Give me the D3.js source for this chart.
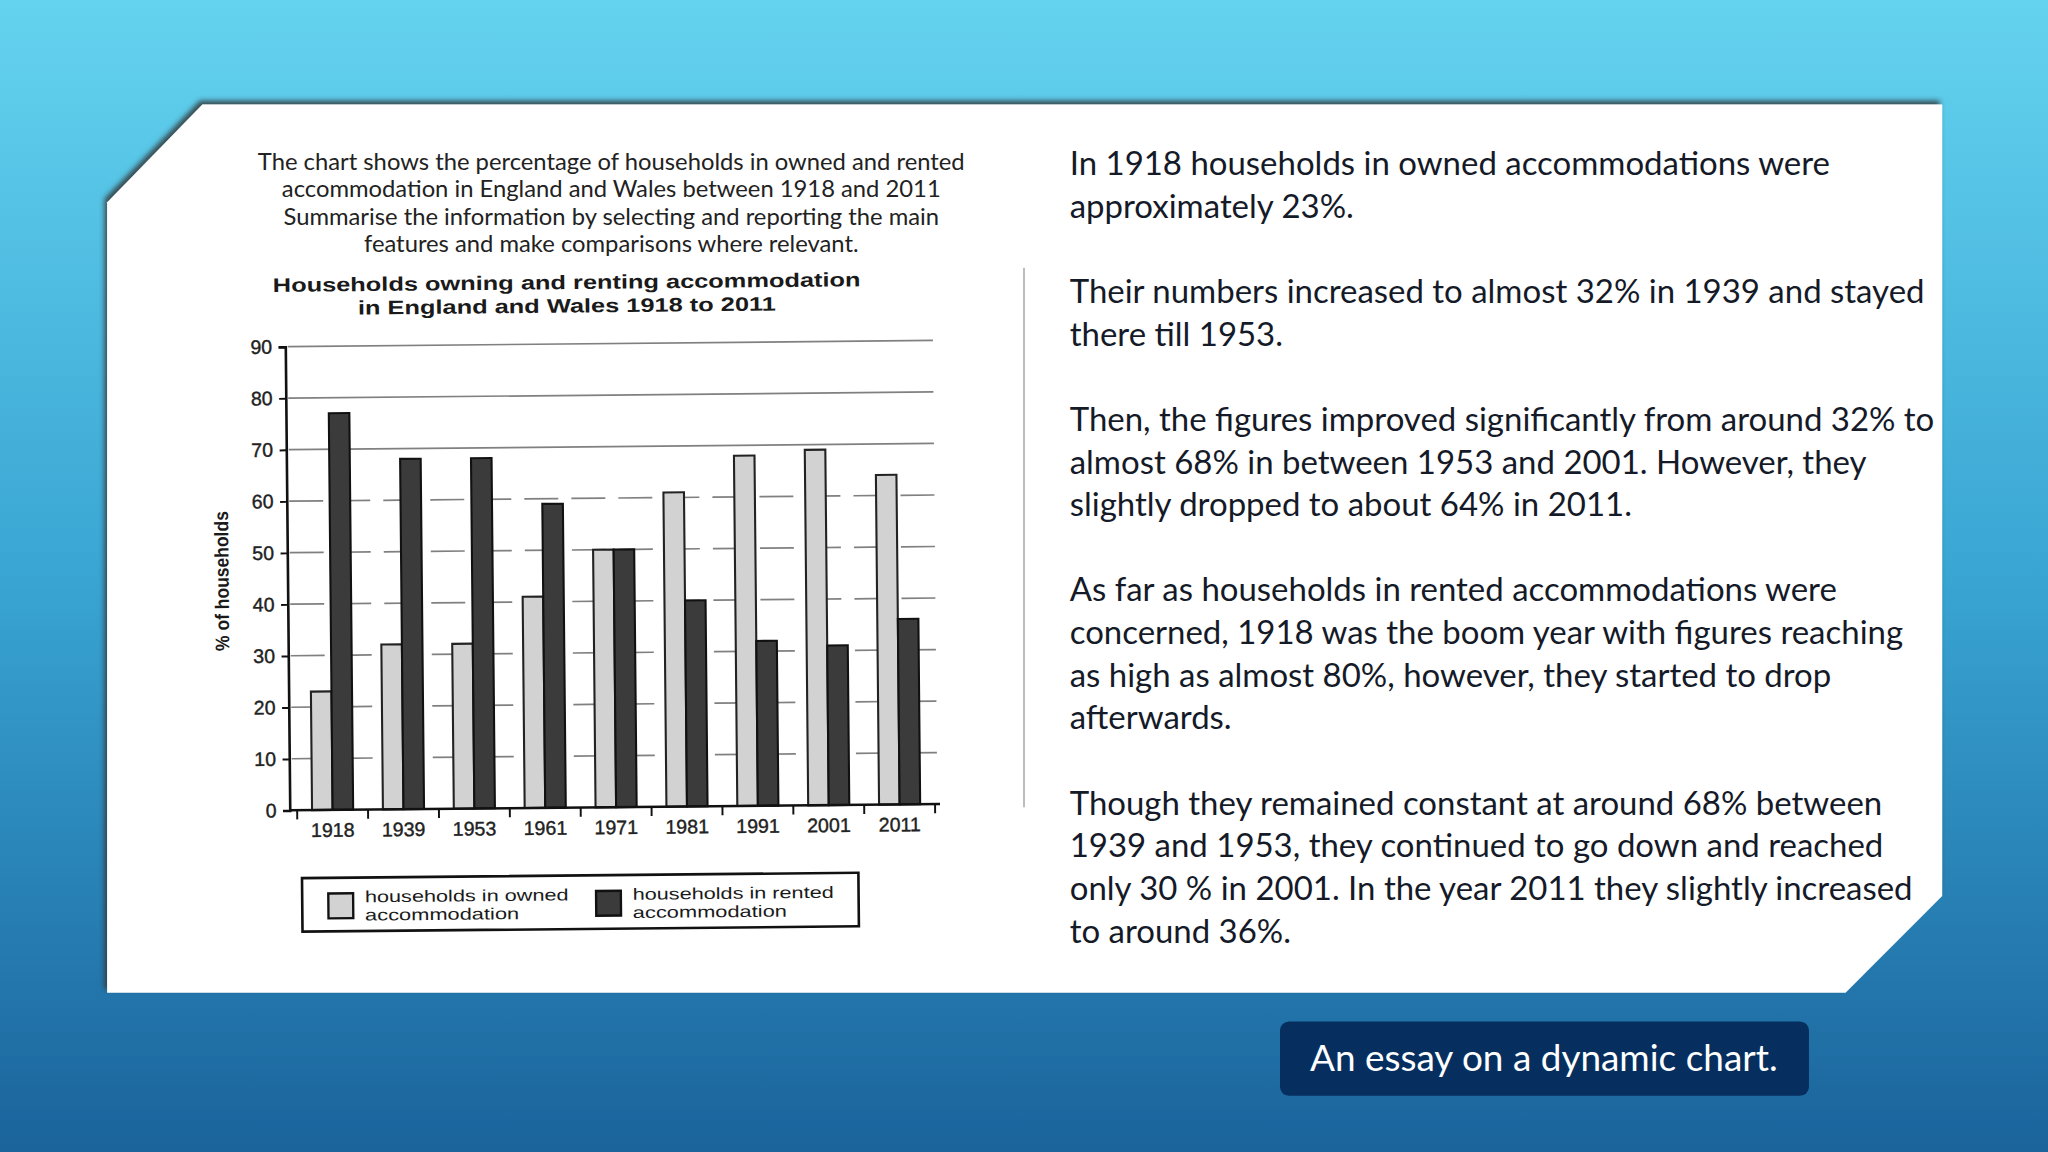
<!DOCTYPE html>
<html>
<head>
<meta charset="utf-8">
<script src="https://cdn.jsdelivr.net/npm/d3@7"></script>
<style>
  body { margin: 0; background: #1a669e; overflow: hidden; }
  svg { display: block; }
</style>
</head>
<body>
<div id="slide"></div>
<script>
"use strict";

// chart data
var years = ["1918", "1939", "1953", "1961", "1971", "1981", "1991", "2001", "2011"];
var owned = [23, 32, 32, 41, 50, 61, 68, 69, 64];
var rented = [77, 68, 68, 59, 50, 40, 32, 31, 36];
var yTicks = [0, 10, 20, 30, 40, 50, 60, 70, 80, 90];
var seriesNames = [["households in owned", "accommodation"], ["households in rented", "accommodation"]];

var chartTitle = ["Households owning and renting accommodation", "in England and Wales 1918 to 2011"];
var introLines = [
  "The chart shows the percentage of households in owned and rented",
  "accommodation in England and Wales between 1918 and 2011",
  "Summarise the information by selecting and reporting the main",
  "features and make comparisons where relevant."
];
// essay lines, "" = blank line between paragraphs
var essayLines = [
  "In 1918 households in owned accommodations were",
  "approximately 23%.",
  "",
  "Their numbers increased to almost 32% in 1939 and stayed",
  "there till 1953.",
  "",
  "Then, the figures improved significantly from around 32% to",
  "almost 68% in between 1953 and 2001. However, they",
  "slightly dropped to about 64% in 2011.",
  "",
  "As far as households in rented accommodations were",
  "concerned, 1918 was the boom year with figures reaching",
  "as high as almost 80%, however, they started to drop",
  "afterwards.",
  "",
  "Though they remained constant at around 68% between",
  "1939 and 1953, they continued to go down and reached",
  "only 30 % in 2001. In the year 2011 they slightly increased",
  "to around 36%."
];
var footer = "An essay on a dynamic chart.";

// whole slide is laid out in a 1568x882 space and scaled up
var W = 1568, H = 882;
var svg = d3.select("#slide").append("svg")
  .attr("width", 2048).attr("height", 1152)
  .attr("viewBox", "0 0 " + W + " " + H);

var defs = svg.append("defs");
var bg = defs.append("linearGradient").attr("id", "bg")
  .attr("x1", 0).attr("y1", 0).attr("x2", 0).attr("y2", 1);
bg.append("stop").attr("offset", "0%").attr("stop-color", "#64d3ef");
bg.append("stop").attr("offset", "50%").attr("stop-color", "#39a5d3");
bg.append("stop").attr("offset", "100%").attr("stop-color", "#1a639b");

var shadow = defs.append("filter").attr("id", "shadow")
  .attr("x", "-5%").attr("y", "-5%").attr("width", "110%").attr("height", "110%");
shadow.append("feDropShadow").attr("dx", -2).attr("dy", -3)
  .attr("stdDeviation", 2).attr("flood-color", "#333").attr("flood-opacity", 0.8);

svg.append("rect").attr("width", W).attr("height", H).attr("fill", "url(#bg)");

// white panel with cut corners
var panel = [[155, 80], [1487, 80], [1487, 686], [1413, 760], [82, 760], [82, 155]];
svg.append("path")
  .attr("d", d3.line()(panel) + "Z")
  .attr("fill", "#ffffff")
  .attr("filter", "url(#shadow)");

// stretch a text element horizontally to a given width
function fitWidth(sel, width) {
  sel.each(function() {
    var len = this.getComputedTextLength();
    if (len > 0) d3.select(this).attr("textLength", width).attr("lengthAdjust", "spacingAndGlyphs");
  });
}

// intro text above the chart
var intro = svg.append("g").attr("class", "intro");
introLines.forEach(function(t, i) {
  intro.append("text")
    .attr("x", 468).attr("y", 130 + 21 * i)
    .attr("text-anchor", "middle")
    .style("font-family", "Lato, 'Open Sans', sans-serif")
    .style("font-size", "17px")
    .attr("fill", "#222")
    .text(t);
});
// condense the block so the first line spans like the original
var introW = intro.select("text").node().getComputedTextLength();
var introK = 541 / introW;
intro.attr("transform", "translate(468,0) scale(" + introK + ",1) translate(-468,0)");

// divider
svg.append("line")
  .attr("x1", 784).attr("x2", 784).attr("y1", 205).attr("y2", 618)
  .attr("stroke", "#9a9a9a").attr("stroke-width", 1);

// essay on the right
var essay = svg.append("g").attr("class", "essay");
essayLines.forEach(function(t, i) {
  if (t === "") return;
  essay.append("text")
    .attr("x", 819).attr("y", 134 + 32.65 * i)
    .style("font-family", "Lato, 'Open Sans', sans-serif")
    .style("font-size", "25px")
    .attr("fill", "#151a28")
    .text(t);
});
var longest = essay.selectAll("text").filter(function(d, i) { return i === 4; }).node().getComputedTextLength();
var essayK = 662 / longest;
essay.attr("transform", "translate(819,0) scale(" + essayK + ",1) translate(-819,0)");

// footer box
svg.append("rect")
  .attr("x", 980).attr("y", 782).attr("width", 405).attr("height", 57)
  .attr("rx", 7).attr("fill", "#062f60");
svg.append("text")
  .attr("x", 1182).attr("y", 820)
  .attr("text-anchor", "middle")
  .style("font-family", "Lato, 'Open Sans', sans-serif")
  .style("font-size", "28px")
  .attr("fill", "#ffffff")
  .text(footer)
  .call(fitWidth, 358);

// ---------- the bar chart (slightly tilted, like the scan) ----------
var chart = svg.append("g").attr("transform", "rotate(-0.55,470,440)");
var chartFont = "'Liberation Sans', Arial, sans-serif";

chartTitle.forEach(function(t, i) {
  chart.append("text")
    .attr("x", 436).attr("y", 221 + 18 * i)
    .attr("text-anchor", "middle")
    .style("font-family", chartFont)
    .style("font-size", "15px")
    .style("font-weight", "bold")
    .attr("fill", "#1a1a1a")
    .text(t)
    .call(fitWidth, i === 0 ? 450 : 320);
});

var y = d3.scaleLinear().domain([0, 90]).range([618, 263]);
var x0 = d3.scaleBand().domain(years).range([222, 718]).paddingInner(0.42).paddingOuter(0.28);
var x1 = d3.scaleBand().domain(["owned", "rented"]).range([0, x0.bandwidth()]);

// gridlines
chart.append("g").selectAll("line")
  .data(yTicks.filter(function(d) { return d > 0; }))
  .join("line")
  .attr("x1", 222).attr("x2", 716)
  .attr("y1", function(d) { return y(d); })
  .attr("y2", function(d) { return y(d); })
  .attr("stroke", "#808080")
  .attr("stroke-width", 1.3)
  .attr("stroke-dasharray", function(d) { return d >= 70 ? null : "26,10"; });

// bars
var groups = chart.append("g").selectAll("g")
  .data(years)
  .join("g")
  .attr("transform", function(d) { return "translate(" + x0(d) + ",0)"; });

groups.append("rect")
  .attr("x", x1("owned")).attr("width", x1.bandwidth())
  .attr("y", function(d, i) { return y(owned[i]); })
  .attr("height", function(d, i) { return y(0) - y(owned[i]); })
  .attr("fill", "#d2d2d2").attr("stroke", "#222").attr("stroke-width", 1.6);

groups.append("rect")
  .attr("x", x1("rented")).attr("width", x1.bandwidth())
  .attr("y", function(d, i) { return y(rented[i]); })
  .attr("height", function(d, i) { return y(0) - y(rented[i]); })
  .attr("fill", "#3b3b3b").attr("stroke", "#111").attr("stroke-width", 1.6);

// y axis
var yAxis = chart.append("g")
  .attr("transform", "translate(220,0)")
  .call(d3.axisLeft(y).tickValues(yTicks).tickSize(5).tickPadding(5));
yAxis.select(".domain").attr("stroke", "#111").attr("stroke-width", 2);
yAxis.selectAll(".tick line").attr("stroke", "#111").attr("stroke-width", 1.5);
yAxis.selectAll(".tick text")
  .style("font-family", chartFont).style("font-size", "15px")
  .attr("fill", "#222").attr("stroke", "#222").attr("stroke-width", 0.3);

// x axis: labels at group centres, ticks at group boundaries
var xAxis = chart.append("g")
  .attr("transform", "translate(0,618)")
  .call(d3.axisBottom(x0).tickSize(0).tickPadding(10));
xAxis.select(".domain").attr("d", "M220,0H718").attr("stroke", "#111").attr("stroke-width", 2);
xAxis.selectAll(".tick text")
  .style("font-family", chartFont).style("font-size", "15px")
  .attr("fill", "#222").attr("stroke", "#222").attr("stroke-width", 0.3);
var step = x0.step();
chart.append("g").selectAll("line")
  .data(d3.range(years.length + 1))
  .join("line")
  .attr("x1", function(i) { return x0(years[0]) - step * 0.21 + i * step; })
  .attr("x2", function(i) { return x0(years[0]) - step * 0.21 + i * step; })
  .attr("y1", 618).attr("y2", 625)
  .attr("stroke", "#111").attr("stroke-width", 1.5);

// y axis title
chart.append("text")
  .attr("transform", "translate(175,442) rotate(-90)")
  .attr("text-anchor", "middle")
  .style("font-family", chartFont)
  .style("font-size", "15px")
  .style("font-weight", "bold")
  .attr("fill", "#1a1a1a")
  .text("% of households")
  .call(fitWidth, 107);

// legend
var legend = chart.append("g");
legend.append("rect")
  .attr("x", 229).attr("y", 670).attr("width", 426).attr("height", 41)
  .attr("fill", "#fff").attr("stroke", "#111").attr("stroke-width", 2);
var swatch = [{ x: 249, fill: "#d2d2d2" }, { x: 454, fill: "#3b3b3b" }];
seriesNames.forEach(function(lines, i) {
  legend.append("rect")
    .attr("x", swatch[i].x).attr("y", 682).attr("width", 19).attr("height", 19)
    .attr("fill", swatch[i].fill).attr("stroke", "#111").attr("stroke-width", 1.8);
  lines.forEach(function(t, j) {
    legend.append("text")
      .attr("x", swatch[i].x + 28).attr("y", 689 + 14 * j)
      .style("font-family", chartFont)
      .style("font-size", "12.5px")
      .attr("fill", "#1a1a1a")
      .text(t)
      .call(fitWidth, j === 0 ? (i === 0 ? 156 : 154) : 118);
  });
});
</script>
</body>
</html>
